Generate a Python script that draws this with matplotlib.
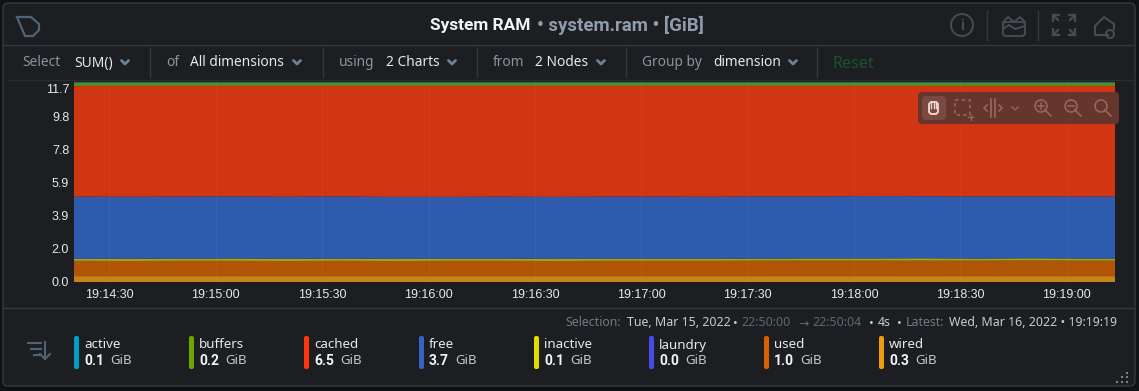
#!/usr/bin/env python3
import matplotlib
matplotlib.use('Agg')
import matplotlib.pyplot as plt
import matplotlib.dates as mdates
from matplotlib.patches import FancyBboxPatch, Circle, Rectangle, Polygon
import pandas as pd

W, H = 1139, 391

# data (GiB), bottom of the stack first
sample_times = ['19:14:20', '19:14:35', '19:14:50', '19:15:05', '19:15:20', '19:15:35', '19:15:50',
                '19:16:05', '19:16:20', '19:16:35', '19:16:50', '19:17:05', '19:17:20', '19:17:35',
                '19:17:50', '19:18:05', '19:18:20', '19:18:35', '19:18:50', '19:19:05', '19:19:14']
wired = [0.33] * 21
used = [0.92, 0.91, 0.92, 0.92, 0.91, 0.92, 0.91, 0.92, 0.92, 0.91, 0.92, 0.92, 0.92, 0.93,
        0.93, 0.93, 0.93, 0.93, 0.94, 0.93, 0.93]
inactive = [0.11, 0.13, 0.12, 0.14, 0.12, 0.13, 0.12, 0.12, 0.13, 0.12, 0.12, 0.13, 0.12, 0.12,
            0.13, 0.13, 0.14, 0.12, 0.13, 0.12, 0.12]
laundry = [0.0] * 21
free = [3.68, 3.66, 3.67, 3.66, 3.67, 3.67, 3.66, 3.65, 3.66, 3.66, 3.67, 3.66, 3.66, 3.67,
        3.66, 3.68, 3.66, 3.67, 3.65, 3.66, 3.67]
cached = [6.52, 6.53, 6.52, 6.51, 6.53, 6.51, 6.54, 6.54, 6.52, 6.54, 6.52, 6.52, 6.53, 6.51,
          6.51, 6.49, 6.50, 6.51, 6.51, 6.52, 6.51]
buffers = [0.18] * 21
active = [0.08] * 21

area_colors = ['#c58318', '#b05506', '#a8a514', '#4a4ae0', '#2f5bae', '#d13513', '#5b8a10', '#14708a']

y_ticks = [0.0, 1.95, 3.9, 5.85, 7.8, 9.75, 11.7]
y_labels = ['0.0', '2.0', '3.9', '5.9', '7.8', '9.8', '11.7']
x_ticks = ['19:14:30', '19:15:00', '19:15:30', '19:16:00', '19:16:30', '19:17:00', '19:17:30',
           '19:18:00', '19:18:30', '19:19:00']

legend_names = ['active', 'buffers', 'cached', 'free', 'inactive', 'laundry', 'used', 'wired']
legend_values = ['0.1', '0.2', '6.5', '3.7', '0.1', '0.0', '1.0', '0.3']
legend_colors = ['#009fca', '#6aa800', '#ff3510', '#3563c8', '#dede00', '#4a4ae8', '#d86000', '#f09a10']

BG = '#1c1e22'
LINE = '#35383d'
UI_FONT = ['Noto Sans', 'DejaVu Sans']
BOLD_FONT = ['Roboto', 'DejaVu Sans']
WHITE = '#e6e8ea'
GRAY = '#8a949e'

fig = plt.figure(figsize=(W / 100, H / 100), dpi=100, facecolor='#101114')

# everything that is not the plot lives in pixel coordinates
ui = fig.add_axes([0, 0, 1, 1], zorder=0)
ui.set_xlim(0, W)
ui.set_ylim(H, 0)
ui.axis('off')
ui.add_patch(FancyBboxPatch((3, 3), 1132, 383, boxstyle='round,pad=0,rounding_size=5',
                            fc=BG, ec=LINE, lw=1))
for yy in [45, 308]:
    ui.plot([4, 1134], [yy, yy], color=LINE, lw=1)
ui.plot([9, 1134], [80, 80], color='#2a2d31', lw=1)

# chart
left, right, top, bottom = 74, 1115, 82, 282
ax = fig.add_axes([left / W, 1 - bottom / H, (right - left) / W, (bottom - top) / H], zorder=1)
times = pd.to_datetime(['2022-03-16 ' + t for t in sample_times])
ax.stackplot(times, wired, used, inactive, laundry, free, cached, buffers, active,
             colors=area_colors, lw=0)
ax.set_ylim(0, 11.8)
ax.set_xlim(pd.Timestamp('2022-03-16 19:14:20'), pd.Timestamp('2022-03-16 19:19:13.6'))
ax.set_facecolor(BG)
for s in ax.spines.values():
    s.set_visible(False)
ax.set_yticks(y_ticks)
ax.set_yticklabels(y_labels, family='Liberation Sans', fontsize=9, color=WHITE, va='center_baseline')
ax.get_yticklabels()[-1].set_va('top')
ax.set_xticks([mdates.date2num(pd.Timestamp('2022-03-16 ' + t)) for t in x_ticks])
ax.set_xticklabels(x_ticks, family='Liberation Sans', fontsize=9, color=WHITE)
ax.tick_params(axis='both', length=0, pad=3.5)
ax.tick_params(axis='x', pad=5.2)
ax.grid(axis='x', color='white', alpha=0.035, lw=1)
ax.set_axisbelow(False)

# overlay for things drawn over the chart
over = fig.add_axes([0, 0, 1, 1], zorder=2)
over.set_xlim(0, W)
over.set_ylim(H, 0)
over.axis('off')
over.patch.set_alpha(0)


def label(x, y, s, color=WHITE, size=9.9, ha='left'):
    over.text(x, y + 1, s, color=color, fontsize=size, ha=ha, va='center', family=UI_FONT)


def bold(x, y, s, color='#f2f3f4', size=9.9):
    over.text(x, y + 0.5, s, color=color, fontsize=size, fontweight='bold', ha='left', va='center',
              family=BOLD_FONT)


def chevron(x, y):
    over.plot([x - 3.5, x, x + 3.5], [y - 1.5, y + 2, y - 1.5], color='#6f8293', lw=2, solid_capstyle='round')


# header
bold(430, 25, 'System RAM', size=12.4)
bold(537, 25, '\u2022 system.ram \u2022 [GiB]', color='#8f9cab', size=13.4)
over.add_patch(Polygon([[17, 17], [31, 17], [39, 24], [39, 30], [33, 36], [25, 36]], closed=True,
                       fc='none', ec='#4f6472', lw=1.6))
icon = '#474c52'
over.add_patch(Circle((962, 25), 11, fc='none', ec=icon, lw=1.4))
bold(960, 25, 'i', color=icon, size=11)
over.plot([987, 987], [11, 40], color=LINE, lw=1)
over.plot([1038, 1038], [11, 40], color=LINE, lw=1)
over.add_patch(FancyBboxPatch((1003, 22), 22, 14, boxstyle='round,pad=0,rounding_size=3', fc='none', ec=icon, lw=1.4))
over.plot([1003, 1008, 1014, 1020, 1025], [22, 17, 22, 17, 22], color=icon, lw=1.4)
over.plot([1003, 1009, 1015, 1025], [29, 25, 29, 26], color=icon, lw=1.4)
for sx, sy in [(1053, 15), (1075, 15), (1053, 35), (1075, 35)]:
    dx = 1 if sx < 1064 else -1
    dy = 1 if sy < 25 else -1
    over.plot([sx + dx * 6, sx, sx], [sy, sy, sy + dy * 6], color=icon, lw=1.6)
    over.plot([sx, sx + dx * 5], [sy, sy + dy * 5], color=icon, lw=1.6)
over.plot([1108, 1095, 1095, 1104, 1114, 1114], [35, 35, 26, 17, 24, 29], color=icon, lw=1.5)
over.add_patch(Circle((1110, 34), 4, fc=BG, ec=icon, lw=1.4))

# controls row
for x, s in [(22, 'Select'), (166, 'of'), (339, 'using'), (493, 'from'), (642, 'Group by')]:
    label(x, 62, s, color=GRAY)
for x, s in [(74, 'SUM()'), (190, 'All dimensions'), (386, '2 Charts'), (535, '2 Nodes'), (713, 'dimension')]:
    label(x, 62, s)
for x in [125, 297, 452, 601, 793]:
    chevron(x, 62)
for x in [150, 323, 477, 626, 817]:
    over.plot([x, x], [48, 77], color=LINE, lw=1)
label(832, 63, 'Reset', color='#17552e', size=11.6)

# toolbar on the chart
over.add_patch(FancyBboxPatch((918, 92), 201, 32, boxstyle='round,pad=0,rounding_size=4',
                              fc='#66362c', ec='none'))
over.add_patch(FancyBboxPatch((922, 96), 24, 24, boxstyle='round,pad=0,rounding_size=4',
                              fc='#7a4a40', ec='none'))
tool = '#94675d'
hand = '#ecd5cf'
over.add_patch(FancyBboxPatch((929, 102), 9, 12, boxstyle='round,pad=0,rounding_size=3', fc='none', ec=hand, lw=1.4))
for hx in [931, 933.5, 936]:
    over.plot([hx, hx], [102, 108], color=hand, lw=1)
over.add_patch(Rectangle((955, 100), 15, 15, fc='none', ec=tool, lw=1.2, ls=(0, (2, 2))))
over.plot([968, 973], [117, 117], color=tool, lw=1)
over.plot([970.5, 970.5], [114.5, 119.5], color=tool, lw=1)
over.plot([991, 991], [99, 117], color=tool, lw=1.3)
over.plot([995, 995], [99, 117], color=tool, lw=1.3)
over.plot([987, 984, 987], [105, 108, 111], color=tool, lw=1.2)
over.plot([999, 1002, 999], [105, 108, 111], color=tool, lw=1.2)
over.plot([1012, 1015, 1018], [107, 110, 107], color=tool, lw=1)
for cx, kind in [(1041, 'plus'), (1071, 'minus'), (1101, 'reset')]:
    over.add_patch(Circle((cx, 106), 6, fc='none', ec=tool, lw=1.2))
    over.plot([cx + 4, cx + 10], [110, 116], color=tool, lw=1.2)
    if kind != 'reset':
        over.plot([cx - 3, cx + 3], [106, 106], color=tool, lw=1.1)
    if kind == 'plus':
        over.plot([cx, cx], [103, 109], color=tool, lw=1.1)

# footer
FOOT = 8.9
label(565, 322, 'Selection:', color='#6f7a85', size=FOOT)
label(627, 322, 'Tue, Mar 15, 2022', color='#c8cccf', size=FOOT)
label(733, 322, '\u2022', color='#c8cccf', size=FOOT)
label(741, 322, '22:50:00', color='#5d6873', size=FOOT)
label(798, 322, '\u2192', color='#5d6873', size=FOOT)
label(812, 322, '22:50:04', color='#5d6873', size=FOOT)
label(869, 322, '\u2022', color='#c8cccf', size=FOOT)
label(878, 322, '4s', color='#c8cccf', size=FOOT)
label(897, 322, '\u2022', color='#c8cccf', size=FOOT)
label(906, 322, 'Latest:', color='#6f7a85', size=FOOT)
label(949, 322, 'Wed, Mar 16, 2022 \u2022 19:19:19', color='#c8cccf', size=FOOT)

over.plot([28, 41], [343, 343], color='#4f6472', lw=1.5)
over.plot([31, 41], [349, 349], color='#4f6472', lw=1.5)
over.plot([34, 41], [355, 355], color='#4f6472', lw=1.5)
over.plot([45, 45], [342, 359], color='#4f6472', lw=1.5)
over.plot([40, 45, 50], [354, 359, 354], color='#4f6472', lw=1.5)

for i, name in enumerate(legend_names):
    x = 74 + i * 115
    over.add_patch(FancyBboxPatch((x, 336), 5, 33, boxstyle='round,pad=0,rounding_size=2',
                                  fc=legend_colors[i], ec='none'))
    label(x + 10, 344, name, size=9.6)
    bold(x + 10, 360.5, legend_values[i], size=10)
    label(x + 36, 360, 'GiB', size=9.6, color='#c2c6ca')

for dx, dy in [(1127, 373), (1122, 377), (1127, 377), (1117, 382), (1122, 382), (1127, 382)]:
    over.add_patch(Rectangle((dx - 1, dy - 1), 2, 2, fc='#7a828a', ec='none'))

fig.savefig('out.png', dpi=100, facecolor=fig.get_facecolor())
